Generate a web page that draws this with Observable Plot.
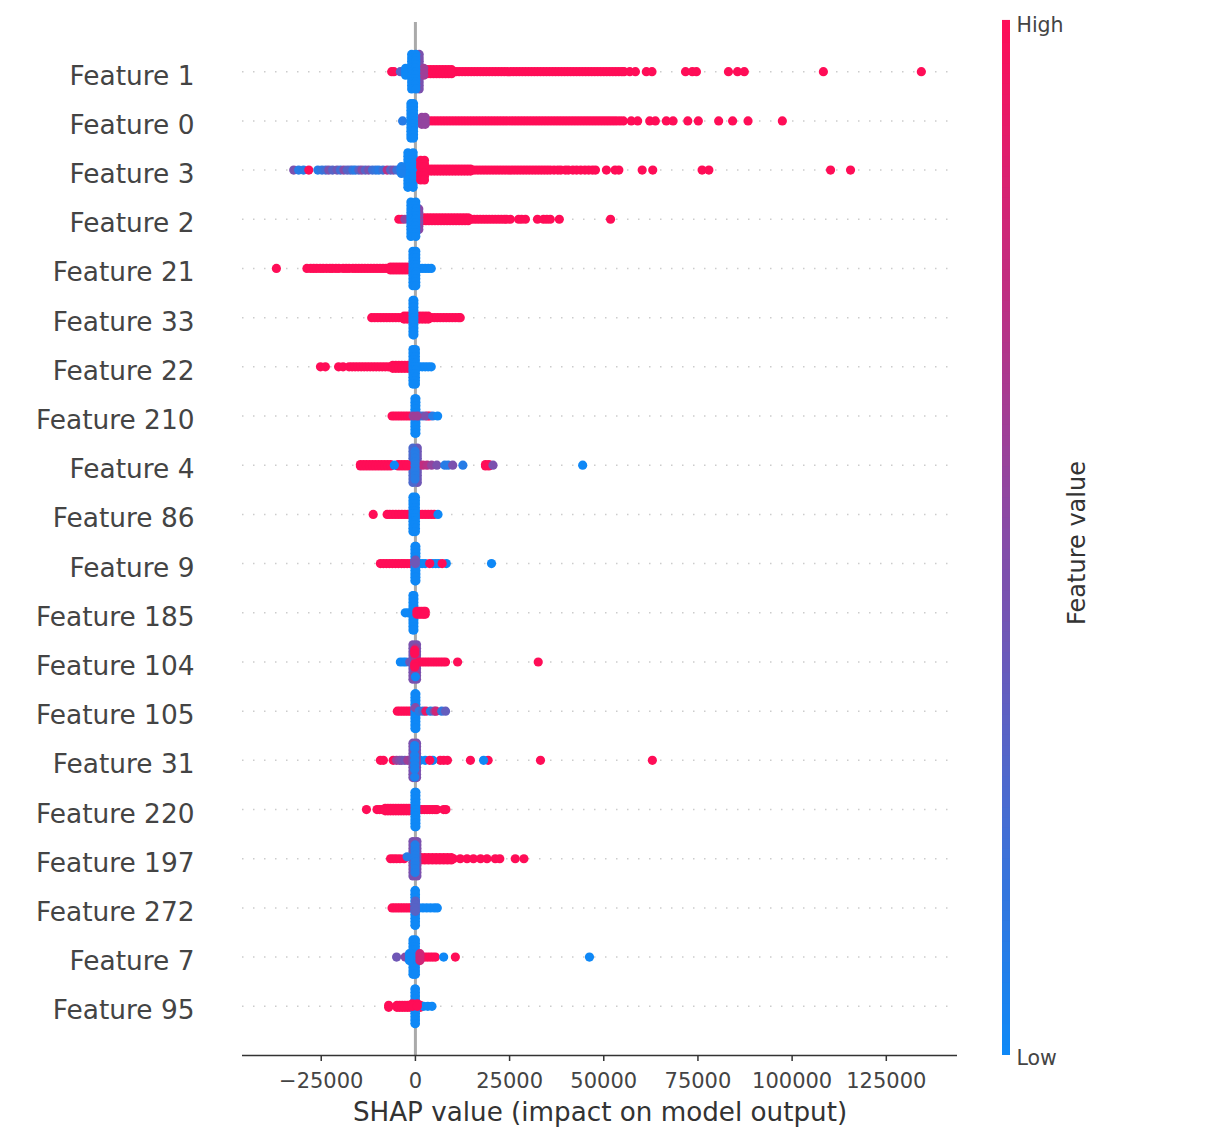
<!DOCTYPE html>
<html>
<head>
<meta charset="utf-8">
<script src="https://cdn.jsdelivr.net/npm/d3@7"></script>
<script src="https://cdn.jsdelivr.net/npm/@observablehq/plot@0.6"></script>
<style>
html,body{margin:0;padding:0;background:#fff;}
#wrap{position:relative;width:1220px;height:1136px;overflow:hidden;}
#wrap svg{position:absolute;top:0;}
</style>
</head>
<body>
<div id="wrap"></div>
<script>
const features = ["Feature 1","Feature 0","Feature 3","Feature 2","Feature 21","Feature 33","Feature 22","Feature 210","Feature 4","Feature 86","Feature 9","Feature 185","Feature 104","Feature 105","Feature 31","Feature 220","Feature 197","Feature 272","Feature 7","Feature 95"];
const xTicks = [-25000,0,25000,50000,75000,100000,125000];
const rowIndex = features.map((d,i)=>i);
const xLabel = "SHAP value (impact on model output)";
const colourLabel = "Feature value";
const colourEnds = ["Low","High"];
const blue = "#0f88f6", red = "#ff0d57";

// swarm lanes (fraction of a row), SHAP values in thousands
const stemLanes=[-.35,-.28,-.21,-.14,-.07,0,.07,.14,.21,.28,.35];
const midLanes=[-.07,0,.07];
const wideLanes=[-.03,0,.03];
const oneLane=[0];

const f1Band=[4,5,6,7,8,9,10,10.8,11.6,12.4,13.2,14,14.8,15.6,16.4,17.2,18,18.8,19.6,20.4,21.2,22,22.8,23.6,24.4,25.2,26,26.8,27.6,28.4,29.2,30,30.8,31.6,32.4,33.2,34,34.8,35.6,36.4,37.2,38,38.8,39.6,40.4,41.2,42,42.8,43.6,44.4,45.2,46,46.8,47.6,48.4,49.2,50,50.8,51.6,52.4,53.2,54,54.8,55.4];
const f1Core=[2.4,3.2,4,4.8,5.6,6.4,7.2,8,8.8,9.6];
const f1Far=[56.9,58.4,61.3,62.8,71.7,73.5,74.6,83.1,85.5,87.3,108.3,134.3];
const f0Band=[3,3.8,4.6,5.4,6.2,7,7.8,8.6,9.4,10.2,11,11.8,12.6,13.4,14.2,15,15.8,16.6,17.4,18.2,19,19.8,20.6,21.4,22.2,23,23.8,24.6,25.4,26.2,27,27.8,28.6,29.4,30.2,31,31.8,32.6,33.4,34.2,35,35.8,36.6,37.4,38.2,39,39.8,40.6,41.4,42.2,43,43.8,44.6,45.4,46.2,47,47.8,48.6,49.4,50.2,51,51.8,52.6,53.4];
const f0Far=[54.3,55.2,57.3,59,62.2,63.7,66.6,68.4,72.3,75.1,80.5,84.2,88.3,97.4];
const f3Band=[3,3.8,4.6,5.4,6.2,7,7.8,8.6,9.4,10.2,11,11.8,12.6,13.4,14.2,15,15.8,16.6,17.4,18.2,19,19.8,20.6,21.4,22.2,23,23.8,24.6,25.4,26.2,27,27.8,28.6,29.4,30.2,31,31.8,32.6,33.4,34.2,35,35.8,36.8,37.8,38.6,39.8,40.6,41.8,42.8,43.9,45,46,47,47.8];
const f3Core=[2.6,3.4,4.2,5,5.8,6.6,7.4,8.2,9,9.8,10.6,11.4,12.2,13,13.8,14.6];
const f3Far=[50.7,53,54,60.2,63,76.1,77.9,110.2,115.5];
const f3Left=[[-32.3,.45],[-31,.1],[-29.7,.1],[-28.3,1],[-25.9,.1],[-24.8,.15],[-23.8,.2],[-23,.45],[-22,.3],[-20.8,.4],[-19.9,.2],[-19,.5],[-18.1,.3],[-17.3,.3],[-16.6,.15],[-15.9,.1],[-15,.3],[-14.2,.5],[-13.3,.3],[-12.4,.45],[-11.4,.2],[-10.5,.15],[-9.7,.1],[-8.6,.2],[-7.5,.7],[-6.6,.3],[-5.8,.45],[-4.9,.2],[-4,.1]];
const f2Band=[2,2.8,3.6,4.4,5.2,6,6.8,7.6,8.4,9.2,10,10.8,11.6,12.4,13.2,14,14.8,15.6,16.4,17.2,18,18.8,19.6,20.4,21.2,22,22.8,23.6,24.2];
const f2Core=[2,2.8,3.6,4.4,5.2,6,6.8,7.6,8.4,9.2,10,10.8,11.6,12.4,13.2,14];
const f2Far=[25.2,27.4,28.2,29.2,32.4,34,34.9,35.8,38.2,51.8];
const f2Left=[[-4.4,1],[-3.6,1],[-2.8,.55]];
const f21Band=[-36.9,-28.8,-27.8,-27,-26.2,-25.3,-24.5,-23.6,-22.7,-22,-21.1,-20.3,-19.2,-18.4,-17.6,-16.6,-15.8,-15,-14.2,-13.4,-12.6,-11.8,-11,-10.2,-9.4,-8.6,-7.8,-7,-6.2,-5.4,-4.6,-3.8,-3,-2.2,-1.4];
const f21Core=[-6.6,-5.8,-5,-4.2,-3.4,-2.6,-1.8,-1];
const f21Right=[1,1.8,2.6,3.4,4.2];
const f33Band=[-11.6,-10.8,-10,-9.2,-8.4,-7.6,-6.8,-6,-5.2,-4.4,-3.6,-2.8,-2,-1.2,1,1.8,2.6,3.4,4.2,5,5.8,6.6,7.4,8.2,9,9.8,10.6,11.4,11.9];
const f22Band=[-25.2,-23.9,-20.4,-19.2,-17.6,-16.8,-16,-15.2,-14.4,-13.6,-12.8,-12,-11.2,-10.4,-9.6,-8.8,-8,-7.2,-6.4,-5.6,-4.8,-4,-3.2,-2.4,-1.6,-1];
const f22Right=[1,1.8,2.6,3.4,4.2];
const f210Red=[-6.2,-5.5,-4.8,-4.1,-3.4,-2.7,-2,-1.3,3.2,3.8];
const f210Mix=[[1,.35],[1.8,.2],[2.6,.45],[4.6,.1],[5.9,0]];
const f4Red=[-14.6,-13.8,-13,-12.2,-11.4,-10.6,-9.8,-9,-8.2,-7.4,-6.6,-4.6,-3.8,-3,-2.2,18.6,19.5];
const f4Mix=[[-5.6,0],[1,.6],[2,.75],[3.1,.7],[4.3,.55],[5.7,.45],[7.8,.1],[8.7,.1],[9.9,.45],[12.6,.1],[20.6,.45]];
const f4Far=[44.4];
const f86Red=[-11.2,-7.5,-6.8,-6,-5.2,-4.4,-3.6,-2.8,-2,-1.2,1,1.8,2.6,3.4,4.2,5];
const f86Blue=[6];
const f9Red=[-9.3,-8.5,-7.7,-6.9,-6.1,-5.3,-4.5,-3.7,-3,-2.2,-1.4];
const f9Blue=[1,1.8,2.6,4.6,5.4,6.2,8.2,20.2];
const f9RedRight=[3.8,7.1];
const f185Blue=[-2.7,-1.9];
const f185Red=[.4,1,1.6,2.2,2.6];
const f104Blue=[-4,-3.2,-2.5];
const f104Mix=[[-1.5,.4]];
const f104Red=[1,1.7,2.4,3.1,3.8,4.5,5.2,5.9,6.6,7.3,8,11.2,32.6];
const f105Red=[-4.8,-4.1,-3.4,-2.7,-2,-1.3];
const f105Mix=[[1,.1],[2,.2],[2.8,.9],[4,.1],[5,.45],[5.5,.8],[7,.15],[8,.35]];
const f31Red=[-9.3,-8.5,-5.9,6.6,7.5,8.5,14.6,19.3,33.2,62.9];
const f31Mix=[[-5,.6],[-4.2,.5],[-3.6,.45],[-2.8,.4],[-2,.6]];
const f31Blue=[1.3,2.6,4.6,18.1];
const f31RedTop=[3.8];
const f220Red=[-13,-10.2,-9.5,-8.8,-8.1,-7.4,-6.7,-6,-5.3,-4.6,-3.9,-3.2,-2.5,-1.8,-1.1,1,1.7,2.4,3.1,3.8,4.5,5.2,5.7,7.5,8.1];
const f197Red=[-6.6,-5.8,-5,-4.1,-3,1.3,2,2.7,3.4,4.1,4.8,5.5,6.2,6.9,7.6,8.3,9,10.1,11.9,13.7,15.4,17.3,19,21.2,22.4,26.5,28.8];
const f197Core=[1.5,2.5,3.5,4.5,5.5,6.5,7.5,8.5,9.5];
const f272Red=[-6.2,-5.5,-4.8,-4.1,-3.4,-2.7,-2,-1.3,-.8];
const f272Blue=[1,2,3,4,5,5.8];
const f7Mix=[[-5,.4],[-2.7,.5]];
const f7Red=[1.8,2.5,3.2,3.9,4.6,5.3,10.6];
const f7Blue=[7.5,46.2];
const f95Red=[-7.1,-4.9,-4.2,-3.5,-2.8,-2.1,-1.4,-.7,.6,1.3];
const f95Blue=[2.2,3.3,4.4];

const points=[];
function add(row,values,colour,lanes){
  for(const lane of lanes) for(const v of values){
    const [x,c]=Array.isArray(v)?v:[v,colour];
    points.push({x:x*1000,pos:row+lane,c});
  }
}
// row 0
add(0,[[-6.3,1],[-5.7,1],[-4,.3],[-3,.2]],0,oneLane);
add(0,f1Band,1,oneLane); add(0,f1Core,1,[-.04,-.02,.02,.04]); add(0,f1Far,1,oneLane);
add(0,[1],.45,stemLanes); add(0,[2.2],.6,midLanes);
add(0,[-2.6],0,midLanes); add(0,[-1,.1],0,stemLanes);
// row 1
add(1,f0Band,1,oneLane); add(1,f0Far,1,oneLane);
add(1,[1.7,2.6],.55,midLanes); add(1,[-3.4],.1,oneLane);
add(1,[-1.2,-.5],0,stemLanes);
// row 2
add(2,f3Left,0,oneLane);
add(2,f3Band,1,oneLane); add(2,f3Core,1,[-.02,.02]); add(2,f3Far,1,oneLane);
add(2,[-2,-.6],0,stemLanes);
add(2,[-3.7],.05,midLanes);
add(2,[1.4,2.4],1,[-.2,-.13,-.06,.06,.13,.2]);
// row 3
add(3,f2Left,1,oneLane);
add(3,f2Band,1,oneLane); add(3,f2Core,1,wideLanes); add(3,f2Far,1,oneLane);
add(3,[.9],.5,stemLanes.slice(2,9));
add(3,[-1.2,.1],0,stemLanes);
// row 4
add(4,f21Band,1,oneLane); add(4,f21Core,1,wideLanes); add(4,f21Right,0,oneLane);
add(4,[-.65,.1],0,stemLanes);
// row 5
add(5,f33Band,1,oneLane); add(5,[-3,-2.2,-1.4,1,1.8,2.6,3.4],1,wideLanes);
add(5,[-.65,-.4],0,stemLanes);
// row 6
add(6,f22Band,1,oneLane); add(6,f22Right,0,oneLane); add(6,[-6,-5.2,-4.4,-3.6,-2.8,-2,-1.2],1,wideLanes);
add(6,[-.65,0],0,stemLanes);
// row 7
add(7,f210Red,1,oneLane);
add(7,[-.13,.13],0,stemLanes);
add(7,f210Mix,0,oneLane); add(7,[-.6,.4],.6,oneLane);
// row 8
add(8,[.5],.4,stemLanes); add(8,[-.65],.25,stemLanes);
add(8,f4Red,1,[-.015,.015]); add(8,f4Mix,0,oneLane); add(8,f4Far,0,oneLane);
add(8,[-.1],.1,stemLanes.slice(1,10));
// row 9
add(9,f86Red,1,oneLane); add(9,f86Blue,0,oneLane);
add(9,[-.65,0],0,stemLanes);
// row 10
add(10,f9Red,1,oneLane); add(10,f9Blue,0,oneLane); add(10,f9RedRight,1,oneLane);
add(10,[-.13,.13],0,stemLanes);
add(10,[0],.4,[-.07,0]);
// row 11
add(11,f185Blue,0,oneLane);
add(11,[-.65,-.4],0,stemLanes);
add(11,f185Red,1,[-.03,.03]);
// row 12
add(12,[-.65,.3],.45,stemLanes); add(12,f104Blue,0,oneLane); add(12,f104Mix,0,oneLane);
add(12,[0],.6,stemLanes.slice(1,10));
add(12,f104Red,1,oneLane);
add(12,[-.2],1,[-.24,-.17,.04,.1]); add(12,[0],0,[.3]);
// row 13
add(13,f105Red,1,oneLane);
add(13,[-.13,.13],0,stemLanes);
add(13,[0],.5,[-.07]);
add(13,f105Mix,0,oneLane);
// row 14
add(14,f31Red,1,oneLane); add(14,f31Mix,0,oneLane); add(14,f31Blue,0,oneLane);
add(14,[-.65,.3],.45,stemLanes);
add(14,[-.2],.05,[-.3,-.24,-.1,0,.1,.18,.34]);
add(14,f31RedTop,1,oneLane);
// row 15
add(15,f220Red,1,oneLane); add(15,[-8,-7.3,-6.6,-5.9,-5.2,-4.5,-3.8,-3.1,-2.4,-1.7],1,[-.025,.025]);
add(15,[-.13,.13],0,stemLanes);
// row 16
add(16,f197Red,1,oneLane); add(16,f197Core,1,[-.025,.025]);
add(16,[-.65,.4],.45,stemLanes); add(16,[-2.2],.1,[-.04]);
add(16,[-.1],.08,stemLanes.slice(1,10));
// row 17
add(17,f272Red,1,oneLane); add(17,f272Blue,0,oneLane);
add(17,[-.13,0],0,stemLanes); add(17,[0],.3,[-.14,-.07,0,.07]);
// row 18
add(18,f7Mix,0,oneLane); add(18,f7Red,1,oneLane); add(18,f7Blue,0,oneLane);
add(18,[-.65,0],0,stemLanes); add(18,[-1.6],0,midLanes);
add(18,[1.2],.8,[-.07,0,.07]);
// row 19
add(19,f95Red,1,[-.02,.02]); add(19,f95Blue,0,oneLane);
add(19,[-.13,0],0,stemLanes);
add(19,[-.8,.5],1,[-.05,0]);

const colourStops=d3.range(0,1,.01);
const ink="#333";

const main=Plot.plot({
  width:1220,height:1136,marginLeft:242,marginRight:263,marginTop:22,marginBottom:81,
  style:{fontFamily:"DejaVu Sans",background:"transparent",color:ink},
  x:{domain:[-45900,143900]},
  y:{domain:[-1,20],reverse:true},
  color:{type:"linear",domain:[0,1],range:[blue,red],interpolate:"rgb"},
  marks:[
    Plot.ruleY(rowIndex,{stroke:"#ccc",strokeWidth:1.5,strokeDasharray:"1.5 9.5"}),
    Plot.ruleX([0],{y1:-1,y2:20,stroke:"#aaa",strokeWidth:3}),
    Plot.dot(points,{x:"x",y:"pos",fill:"c",r:4.6}),
    Plot.ruleY([20],{stroke:ink,strokeWidth:1.5}),
    Plot.axisX({ticks:xTicks,tickSize:6,tickPadding:12,fontSize:21,label:null,tickFormat:d3.format("d"),stroke:ink,strokeWidth:1.5,fill:"#444"}),
    Plot.axisY({ticks:rowIndex,tickSize:0,tickPadding:48,fontSize:26.4,label:null,tickFormat:i=>features[i],fill:"#444",dy:4.5}),
    Plot.text([xLabel],{text:d=>d,frameAnchor:"bottom",dy:65,fontSize:26.2,fill:"#333"})
  ]
});
main.style.left="0px";

const bar=Plot.plot({
  width:130,height:1136,marginLeft:12,marginRight:110,marginTop:22,marginBottom:81,
  style:{fontFamily:"DejaVu Sans",background:"transparent",color:ink},
  x:{domain:[0,1],axis:null},
  y:{domain:[0,1]},
  color:{type:"linear",domain:[0,1],range:[blue,red],interpolate:"rgb"},
  marks:[
    Plot.rect(colourStops,{x1:0,x2:1,y1:d=>d,y2:d=>d+.012,fill:d=>d}),
    Plot.axisY({anchor:"right",ticks:[0,1],tickSize:0,tickPadding:6,fontSize:20.5,label:null,tickFormat:d=>colourEnds[d],fill:"#444",dy:3}),
    Plot.text([colourLabel],{text:d=>d,frameAnchor:"right",textAnchor:"middle",dx:67,dy:4,rotate:-90,fontSize:24,fill:"#333"})
  ]
});
bar.style.left="990px";

document.getElementById("wrap").append(main,bar);
</script>
</body>
</html>
